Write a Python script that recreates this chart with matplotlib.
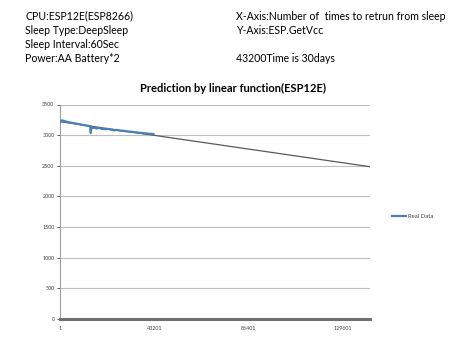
import matplotlib
matplotlib.use('Agg')
import matplotlib.pyplot as plt

# sleep count (x) and ESP.GetVcc reading (y)
count = [1, 300, 800, 1500, 2500, 3500, 5000, 6500, 8000, 9500, 11000, 12500,
         13800, 14100, 14400, 15000, 16000, 17000, 18000, 19000, 20000, 21000,
         22000, 23000, 24000, 25000, 26000, 27000, 28000, 29000, 30000, 31000,
         32000, 33000, 34000, 35000, 36000, 37000, 38000, 39000, 40000, 41000,
         42000, 42800]
vcc = [3205, 3232, 3240, 3236, 3224, 3216, 3204, 3194, 3184, 3174, 3164, 3154,
       3146, 3035, 3138, 3122, 3116, 3110, 3118, 3104, 3100, 3098, 3102, 3092,
       3088, 3080, 3086, 3078, 3070, 3073, 3064, 3060, 3058, 3052, 3049, 3045,
       3040, 3037, 3032, 3030, 3026, 3022, 3020, 3018]

# linear prediction, start and end of the trend line
trend_x = [1, 142000]
trend_y = [3220, 2485]

xticks = [1, 43201, 86401, 129601]
yticks = [0, 500, 1000, 1500, 2000, 2500, 3000, 3500]

left_text = ['CPU:ESP12E(ESP8266)', 'Sleep Type:DeepSleep',
             'Sleep Interval:60Sec', 'Power:AA Battery*2']
right_text = ['X-Axis:Number of  times to retrun from sleep', 'Y-Axis:ESP.GetVcc',
              '', '43200Time is 30days']

plt.rcParams['font.family'] = ['Lato', 'DejaVu Sans']

fig = plt.figure(figsize=(4.74, 3.55), dpi=100)
ax = fig.add_axes([60/474, 1-319/355, 310/474, 214.5/355])

ax.plot(trend_x, trend_y, color='#595959', lw=0.9, zorder=2)
ax.plot(count, vcc, color='#4A7EBB', lw=1.6, zorder=3, label='Real Data')

ax.set_xlim(1, 142000)
ax.set_ylim(0, 3500)
ax.set_xticks(xticks)
ax.set_xticklabels([str(t) for t in xticks])
ax.set_yticks(yticks)
ax.set_yticklabels([str(t) for t in yticks])
ax.tick_params(axis='both', labelsize=3.9, colors='#404040', length=2, width=0.6, pad=2)
ax.tick_params(axis='x', length=0, pad=5)
ax.grid(axis='y', color='#BEBEBE', lw=0.8)
ax.set_axisbelow(True)
for s in ['top', 'right']:
    ax.spines[s].set_visible(False)
ax.spines['left'].set_color('#A0A0A0')
ax.spines['left'].set_linewidth(0.8)
ax.spines['bottom'].set_color('#707070')
ax.spines['bottom'].set_linewidth(2.2)

leg = fig.legend(loc='center left', bbox_to_anchor=(389/474, 1-216/355), frameon=False,
                 fontsize=4.3, handlelength=2.4, handletextpad=0.2, borderpad=0)
for t in leg.get_texts():
    t.set_color('#404040')

fig.text(233/474, 1-88/355, 'Prediction by linear function(ESP12E)', ha='center',
         va='center', fontsize=8, fontweight='bold', color='black')

ys = [16, 30, 44, 58]
for i in range(4):
    fig.text(25/474, 1-ys[i]/355, left_text[i], ha='left', va='center', fontsize=7.6, color='black')
    if right_text[i]:
        fig.text(236/474, 1-ys[i]/355, right_text[i], ha='left', va='center', fontsize=7.6, color='black')

fig.savefig('out.png', dpi=100)
